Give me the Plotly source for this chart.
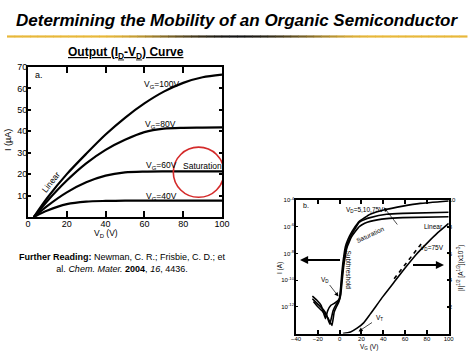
import plotly.graph_objects as go

W, H = 474, 355
FONT = "Liberation Sans, Arial, sans-serif"

# ---------------- data: panel a (output curves) ----------------
VD = [3, 10, 20, 30, 40, 50, 60, 70, 80, 90, 100]
I_VG100 = [0, 9.0, 20.0, 29.5, 38.5, 46.3, 53.0, 58.5, 62.6, 65.2, 66.4]
I_VG80 = [0, 7.5, 17.0, 25.0, 31.3, 36.0, 39.6, 41.2, 41.6, 41.7, 41.8]
I_VG60 = [0, 5.2, 11.5, 16.2, 19.3, 20.8, 21.2, 21.3, 21.3, 21.3, 21.3]
I_VG40 = [0, 3.0, 6.0, 7.2, 7.5, 7.6, 7.6, 7.6, 7.6, 7.6, 7.6]
VD_TICKS = [0, 20, 40, 60, 80, 100]
I_TICKS = [10, 20, 30, 40, 50, 60, 70]

# ---------------- data: panel b (transfer curves) ----------------
VG_A = [-25, -21, -17, -13, -11, -8, -4, -1, 0, 1, 2, 3, 4, 5, 6, 8, 10, 13, 18, 28, 43, 58, 74, 100]
I_A = [6.3e-12, 3.2e-12, 1.3e-12, 1.3e-13, 5.0e-13, 1.3e-12, 2.0e-12, 3.2e-12, 5.0e-12, 3.2e-11,
       3.2e-10, 2.0e-9, 7.9e-9, 2.5e-8, 5.0e-8, 1.3e-7, 2.8e-7, 7.1e-7, 2.5e-6, 8.5e-6,
       2.0e-5, 3.5e-5, 5.6e-5, 8.5e-5]
VG_B = [-25, -20, -15, -12, -9, -6, -3, -1, 0.5, 1.5, 2.5, 3.5, 4.5, 5.5, 6.5, 8.5, 10.5, 13, 18, 23, 28, 43, 58, 100]
I_B = [4.0e-12, 1.6e-12, 6.3e-13, 2.5e-13, 5.0e-14, 5.0e-13, 1.6e-12, 2.5e-12, 6.3e-12, 4.0e-11,
       3.2e-10, 1.6e-9, 6.3e-9, 2.0e-8, 4.0e-8, 1.0e-7, 2.2e-7, 5.0e-7, 2.2e-6, 3.5e-6,
       4.8e-6, 8.5e-6, 1.0e-5, 1.2e-5]
VG_C = [-24, -20, -15, -11, -9, -7, -5, -3, -1, 1, 2, 3, 4, 5, 6, 7, 9, 11, 14, 18, 23, 28, 43, 58, 100]
I_C = [2.5e-12, 1.0e-12, 4.0e-13, 1.6e-13, 7.9e-14, 4.0e-14, 4.0e-13, 1.0e-12, 2.0e-12, 7.9e-12,
       5.0e-11, 3.2e-10, 1.6e-9, 5.0e-9, 1.6e-8, 3.2e-8, 7.9e-8, 1.8e-7, 4.0e-7, 1.0e-6,
       1.8e-6, 2.5e-6, 4.0e-6, 4.8e-6, 5.6e-6]
VG_SQRT = [3, 10, 16, 22, 28, 40, 50, 60, 70, 80, 90, 100]
SQRT_I = [0, 0.12, 0.4, 0.8, 1.45, 2.8, 3.85, 4.9, 5.9, 6.75, 7.55, 8.25]
VG_FIT = [50, 77]
SQRT_FIT = [4.1, 6.95]
VG_TICKS = [-40, -20, 0, 20, 40, 60, 80, 100]
LOG_TICKS = [1e-12, 1e-10, 1e-8, 1e-6, 1e-4]
LOG_LABELS = ["10<sup>-12</sup>", "10<sup>-10</sup>", "10<sup>-8</sup>", "10<sup>-6</sup>", "10<sup>-4</sup>"]
SQRT_TICKS = [2, 4, 6, 8, 10]


def px(x):
    return x / W


def py(y):
    return 1 - y / H


fig = go.Figure()

LW = 2.2
for ys in (I_VG100, I_VG80, I_VG60, I_VG40):
    fig.add_trace(go.Scatter(x=VD, y=ys, mode="lines", line=dict(color="black", width=LW, shape="spline", smoothing=0.8),
                             xaxis="x", yaxis="y", showlegend=False, hoverinfo="skip"))

for xs, ys in ((VG_A, I_A), (VG_B, I_B), (VG_C, I_C)):
    fig.add_trace(go.Scatter(x=xs, y=ys, mode="lines", line=dict(color="black", width=1.6, shape="spline", smoothing=0.3),
                             xaxis="x2", yaxis="y2", showlegend=False, hoverinfo="skip"))

fig.add_trace(go.Scatter(x=VG_SQRT, y=SQRT_I, mode="lines", line=dict(color="black", width=1.6, shape="spline", smoothing=0.6),
                         xaxis="x2", yaxis="y3", showlegend=False, hoverinfo="skip"))
fig.add_trace(go.Scatter(x=VG_FIT, y=SQRT_FIT, mode="lines", line=dict(color="black", width=1.6, dash="4px,4px"),
                         xaxis="x2", yaxis="y3", showlegend=False, hoverinfo="skip"))

tf9 = dict(size=9, family=FONT, color="black")
tf6 = dict(size=6, family=FONT, color="black")

fig.update_layout(
    width=W, height=H, margin=dict(l=0, r=0, t=0, b=0, autoexpand=False),
    paper_bgcolor="white", plot_bgcolor="white", showlegend=False,
    xaxis=dict(domain=[px(28), px(222)], range=[0, 100], anchor="y", tickvals=VD_TICKS, automargin=False,
               showline=True, linewidth=2, linecolor="black", mirror="ticks", ticks="inside",
               ticklen=6, tickwidth=2, tickcolor="black", showgrid=False, zeroline=False, tickfont=tf9,
               ticklabelstandoff=-3),
    yaxis=dict(domain=[py(217), py(67)], range=[0, 70], anchor="x", tickvals=I_TICKS, automargin=False,
               showline=True, linewidth=2, linecolor="black", mirror="ticks", ticks="inside",
               ticklen=3, tickwidth=1.5, tickcolor="black", showgrid=False, zeroline=False, tickfont=tf9,
               ticklabelstandoff=-3),
    xaxis2=dict(domain=[px(296), px(448.7)], range=[-40, 100], anchor="y2", tickvals=VG_TICKS, automargin=False,
                showline=True, linewidth=1.6, linecolor="black", mirror="ticks", ticks="inside",
                ticklen=4, tickwidth=1.5, tickcolor="black", showgrid=False, zeroline=False, tickfont=tf6,
                ticklabelstandoff=-2),
    yaxis2=dict(domain=[py(333.5), py(200)], type="log", range=[-14, -4], anchor="x2", automargin=False,
                tickvals=LOG_TICKS, ticktext=LOG_LABELS,
                showline=True, linewidth=1.6, linecolor="black", mirror=True, ticks="inside",
                ticklen=2, tickwidth=1, tickcolor="black", showgrid=False, zeroline=False, tickfont=tf6,
                ticklabelstandoff=-1),
    yaxis3=dict(domain=[py(333.5), py(200)], range=[0, 10], anchor="x2", overlaying="y2", side="right",
                tickvals=SQRT_TICKS, ticks="inside", ticklen=2, tickwidth=1.5, tickcolor="black", automargin=False,
                showline=False, showgrid=False, zeroline=False, tickfont=tf6, ticklabelstandoff=-1),
)

# ---- header line (gold -> black -> gold) ----
N = 60
x0, x1 = 7, 467
gold = (232, 184, 58)
for i in range(N):
    a = x0 + (x1 - x0) * i / N
    b = x0 + (x1 - x0) * (i + 1) / N
    c = ((a + b) / 2 - 237) / 230
    t = min(1.0, abs(c) / 0.6)
    t = t * t * (3 - 2 * t)
    col = "rgb(%d,%d,%d)" % tuple(int(20 + (g - 20) * t) for g in gold)
    fig.add_shape(type="line", xref="paper", yref="paper", x0=px(a), x1=px(b) + 0.001,
                  y0=py(36.5), y1=py(36.5), line=dict(color=col, width=2.2))

ann = []


def note(text, x, y, size=9, angle=0, xanchor="center", xref="paper", yref="paper"):
    ann.append(dict(text=text, x=x, y=y, xref=xref, yref=yref, showarrow=False, textangle=angle,
                    xanchor=xanchor, yanchor="middle", font=dict(size=size, family=FONT, color="black")))


note("<b><i>Determining the Mobility of an Organic Semiconductor</i></b>", px(237), py(20), size=17)
note("<b><u>Output (I<sub>D</sub>-V<sub>D</sub>) Curve</u></b>", px(126), py(53), size=12)
note("<b>Further Reading:</b> Newman, C. R.; Frisbie, C. D.; et<br>al. <i>Chem. Mater.</i> <b>2004</b>, <i>16</i>, 4436.",
     px(122), py(262.5), size=9)

# panel a labels
note("a.", px(33), py(75), size=9, xanchor="left")
note("I (µA)", px(8), py(140), size=9, angle=-90)
note("V<sub>D</sub> (V)", px(106), py(233.5), size=8.5)
note("V<sub>G</sub>=100V", px(161), py(84), size=8.5)
note("V<sub>G</sub>=80V", px(160), py(125), size=8.5)
note("V<sub>G</sub>=60V", px(161), py(165), size=8.5)
note("V<sub>G</sub>=40V", px(161), py(196), size=8.5)
note("Saturation", px(202), py(166), size=8.5)
note("Linear", px(51), py(182), size=8.5, angle=-52)

# panel b labels
note("b.", px(301), py(205), size=7, xanchor="left")
note("I (A)", px(280), py(268), size=6.5, angle=-90)
note("V<sub>G</sub> (V)", px(369), py(346.5), size=6.5)
note("|I|<sup>1/2</sup> [A<sup>1/2</sup>](x10<sup>-3</sup>)", px(460), py(268), size=6.5, angle=-90)
note("V<sub>D</sub>=5,10,75V", px(365), py(209.5), size=6.5)
note("Saturation", px(370), py(234), size=6.5, angle=-25)
note("Linear", px(433), py(226), size=6.5)
note("V<sub>D</sub>=75V", px(432), py(248.5), size=6.5)
note("Subthreshold", px(348.5), py(270), size=6.5, angle=90)
note("V<sub>D</sub>", px(325), py(280), size=6.5)
note("V<sub>T</sub>", px(379), py(318), size=6.5)


def arrow(hx, hy, tx, ty, width=1, head=2, size=1.0):
    ann.append(dict(text="", x=px(hx), y=py(hy), xref="paper", yref="paper", showarrow=True,
                    ax=tx - hx, ay=ty - hy, axref="pixel", ayref="pixel", arrowhead=head,
                    arrowsize=size, arrowwidth=width, arrowcolor="black"))


arrow(300, 260, 341.5, 260, width=1.8, head=2, size=0.9)
arrow(444, 265, 411.5, 265, width=1.8, head=2, size=0.9)
arrow(338.5, 296.5, 328.5, 283.5, width=0.7, head=2, size=1.2)
arrow(358.5, 331.5, 373.5, 321.5, width=0.7, head=2, size=1.2)
arrow(384, 207.5, 398.5, 226, width=0.7, head=2, size=1.2)

fig.update_layout(annotations=ann)

# red circle around saturation region (data coordinates)
fig.add_shape(type="circle", xref="x", yref="y", x0=74.9, x1=101, y0=9.2, y1=32.6,
              line=dict(color="#d42a2a", width=1.6))

fig.write_html("out.html", config={"displayModeBar": False},
               post_script="document.body.style.margin='0';document.body.style.padding='0';")
